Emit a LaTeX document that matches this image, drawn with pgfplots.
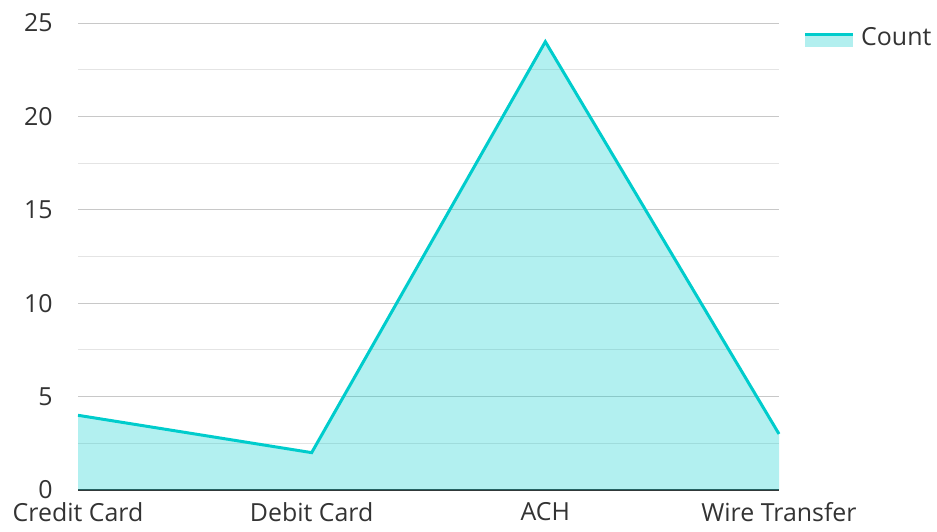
\documentclass[border=0pt]{standalone}
\usepackage{pgfplots}
\pgfplotsset{compat=1.18}
\usepackage{fontspec}
\setmainfont{Open Sans}
\definecolor{lc}{RGB}{0,204,204}
\definecolor{fc}{RGB}{178,239,239}
\definecolor{txt}{RGB}{51,51,51}
\definecolor{majg}{RGB}{200,200,200}
\definecolor{ming}{RGB}{228,228,228}
\begin{document}
\begin{tikzpicture}
\begin{axis}[
  scale only axis,
  width=701bp, height=467bp,
  xmin=0, xmax=3, ymin=0, ymax=25,
  xtick={0,1,2,3},
  xticklabels={Credit Card, Debit Card, ACH, Wire Transfer},
  ytick={0,5,10,15,20,25},
  minor ytick={2.5,7.5,12.5,17.5,22.5},
  ymajorgrids, yminorgrids,
  major grid style={color=majg, line width=1bp},
  minor grid style={color=ming, line width=1bp},
  axis x line*=bottom,
  axis y line*=left,
  y axis line style={draw=none},
  x axis line style={color=txt, line width=1.6bp, -},
  major tick length=0pt, minor tick length=0pt,
  tick style={draw=none},
  ticklabel style={font=\fontsize{25}{29}\selectfont, text=txt},
  /pgf/number format/assume math mode=true,
  yticklabel style={anchor=east, xshift=-22bp},
  xticklabel style={anchor=north, yshift=-9bp},
  clip=false,
  legend style={draw=none, fill=none, at={(axis description cs:1.035,0.995)}, anchor=north west,
    font=\fontsize{25}{29}\selectfont, text=txt, inner sep=0pt},
  legend cell align=left,
]
\addplot[draw=none, fill=lc, fill opacity=0.3, forget plot] coordinates {
  (0,4) (1,2) (2,24) (3,3)
} \closedcycle;
\addplot[color=lc, line width=3bp,
  legend image code/.code={
    \path[draw=none, fill=none] (0bp,-10bp) rectangle (54bp,3bp);
    \fill[fc, draw=none] (0bp,-10bp) rectangle (48bp,3bp);
    \draw[lc, line width=3bp] (0bp,3bp) -- (48bp,3bp);
  }] coordinates {
  (0,4) (1,2) (2,24) (3,3)
};
\addlegendentry{Count}
\coordinate (bl) at (axis description cs:-0.1113,-0.0878);
\coordinate (tr) at (axis description cs:1.2254,1.0493);
\end{axis}
\pgfresetboundingbox
\path (bl) rectangle (tr);
\end{tikzpicture}
\end{document}
